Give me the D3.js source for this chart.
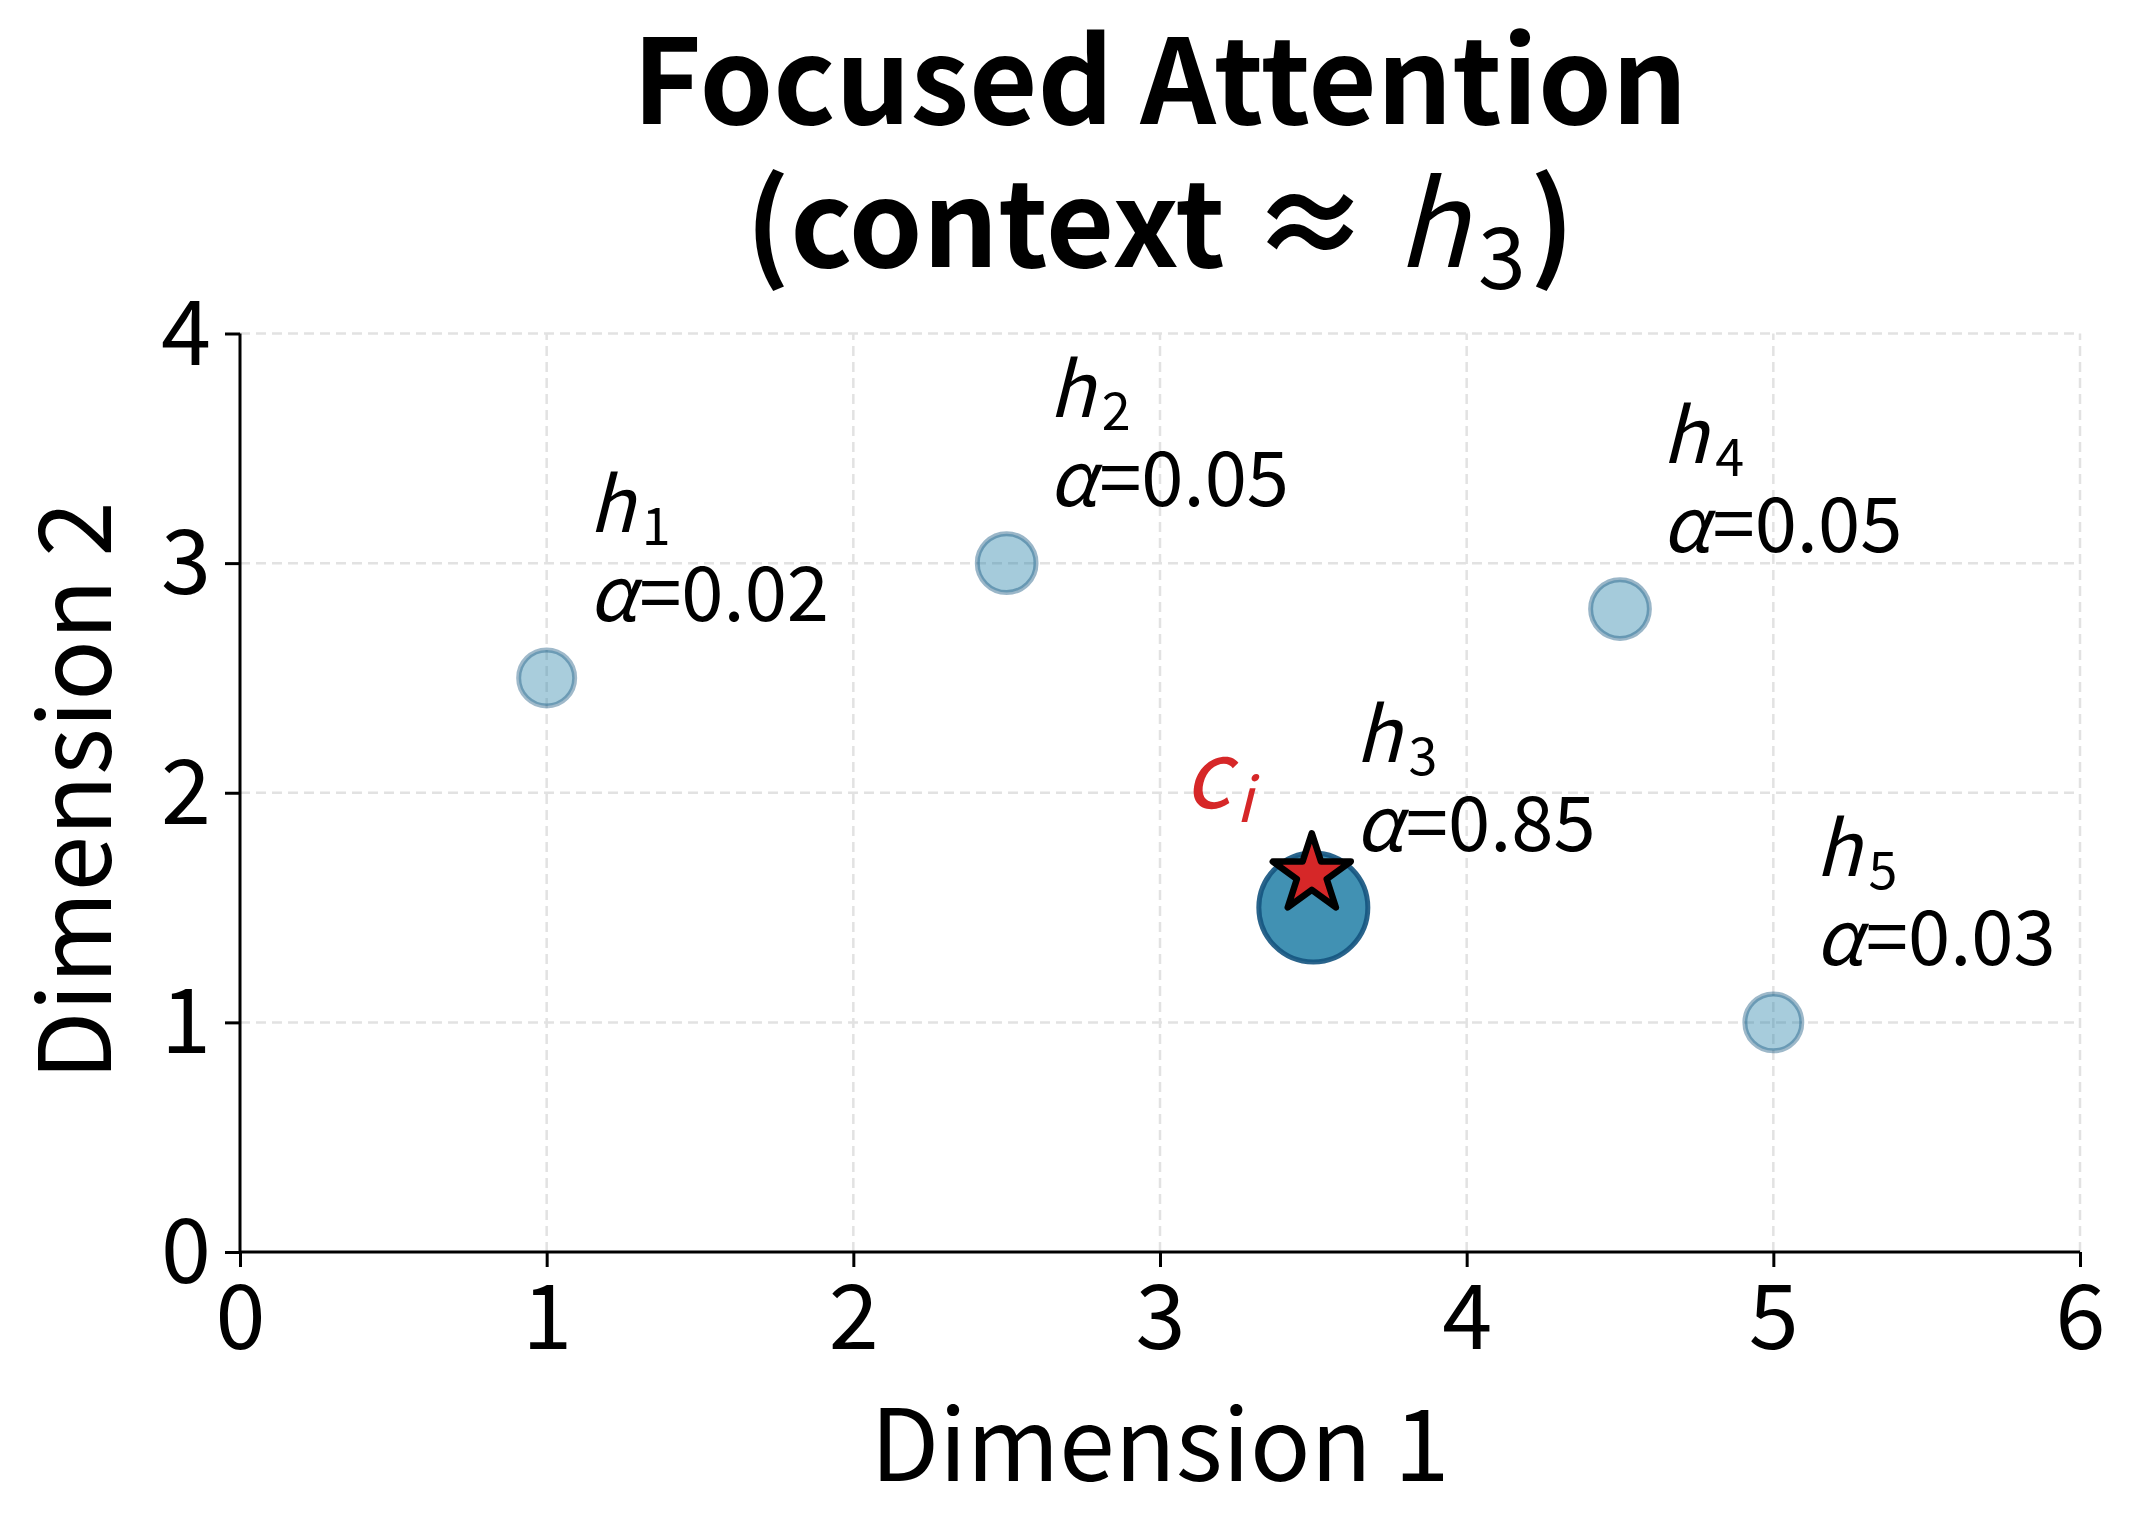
<!DOCTYPE html>
<html>
<head>
<meta charset="utf-8">
<script src="https://cdn.jsdelivr.net/npm/d3@7"></script>
<style>
  html, body { margin: 0; padding: 0; background: #ffffff; }
  svg { display: block; }
  text { font-family: "Noto Sans CJK JP", "Noto Sans", sans-serif; fill: #000; }
</style>
</head>
<body>
<svg id="chart" width="2134" height="1534"></svg>
<script>
// ---- data ----
const hiddenIndex = ["1", "2", "3", "4", "5"];
const dim1 = [1.0, 2.5, 3.5, 4.5, 5.0];
const dim2 = [2.5, 3.0, 1.5, 2.8, 1.0];
const weights = [0.02, 0.05, 0.85, 0.05, 0.03];
const weightLabels = ["0.02", "0.05", "0.85", "0.05", "0.03"];
const contextPoint = [3.495, 1.645];
const xTicks = [0, 1, 2, 3, 4, 5, 6];
const yTicks = [0, 1, 2, 3, 4];
const titleLine1 = "Focused Attention";
const xLabel = "Dimension 1";
const yLabel = "Dimension 2";

// ---- layout ----
const svg = d3.select("#chart");
svg.append("rect").attr("width", 2134).attr("height", 1534).attr("fill", "#fff");

const x = d3.scaleLinear().domain([0, 6]).range([240, 2080]);
const y = d3.scaleLinear().domain([0, 4]).range([1252, 333.5]);

const blue = "#2E86AB";
const edge = "#15557f";
const opacity = d3.scaleLinear().domain([0, 1]).range([0.4, 1.0]);
const area = d3.scaleLinear().domain([0, 1]).range([731, 3365]);

// grid
const grid = svg.append("g");
grid.selectAll("line.vx").data(xTicks.filter(d => d > 0)).join("line")
  .attr("x1", d => x(d)).attr("x2", d => x(d))
  .attr("y1", y(0)).attr("y2", y(4))
  .attr("stroke", "#e2e2e2").attr("stroke-width", 2.5).attr("stroke-dasharray", "10,6");
grid.selectAll("line.hy").data(yTicks.filter(d => d > 0)).join("line")
  .attr("x1", x(0)).attr("x2", x(6))
  .attr("y1", d => y(d)).attr("y2", d => y(d))
  .attr("stroke", "#e2e2e2").attr("stroke-width", 2.5).attr("stroke-dasharray", "10,6");

// axes
const xAxis = d3.axisBottom(x).tickValues(xTicks).tickFormat(d3.format("d")).tickSize(15).tickPadding(14);
const yAxis = d3.axisLeft(y).tickValues(yTicks).tickFormat(d3.format("d")).tickSize(15).tickPadding(14);
const gx = svg.append("g").attr("transform", `translate(0,${y(0)})`).call(xAxis);
const gy = svg.append("g").attr("transform", `translate(${x(0)},0)`).call(yAxis);
[gx, gy].forEach(g => {
  g.select(".domain").attr("stroke", "#000").attr("stroke-width", 3);
  g.selectAll(".tick line").attr("stroke", "#000").attr("stroke-width", 3);
  g.selectAll(".tick text").attr("font-size", 90)
    .attr("font-family", '"Noto Sans CJK JP", "Noto Sans", sans-serif').attr("fill", "#000");
});
gx.select(".domain").attr("d", `M${x(0)},0H${x(6)}`);
gy.select(".domain").attr("d", `M0,${y(0)}V${y(4)}`);
gy.selectAll(".tick text").attr("dy", "0.34em");
gx.selectAll(".tick text").attr("dy", "0.76em");

// points
const pts = d3.range(dim1.length).map(i => ({
  x: dim1[i], y: dim2[i], w: weights[i], idx: hiddenIndex[i], wl: weightLabels[i]
}));
svg.append("g").selectAll("circle").data(pts).join("circle")
  .attr("cx", d => x(d.x)).attr("cy", d => y(d.y))
  .attr("r", d => Math.sqrt(area(d.w)))
  .attr("fill", blue).attr("fill-opacity", d => opacity(d.w))
  .attr("stroke", edge).attr("stroke-opacity", d => opacity(d.w))
  .attr("stroke-width", 5);

// labels
const lab = svg.append("g");
pts.forEach(d => {
  const px = x(d.x) + 42, py = y(d.y);
  const t1 = lab.append("text").attr("x", px).attr("y", py - 146).attr("font-size", 76);
  t1.append("tspan").attr("font-style", "italic").text("h");
  t1.append("tspan").attr("font-size", 52).attr("dx", 7).attr("dy", 13).text(d.idx);
  const t2 = lab.append("text").attr("x", px).attr("y", py - 57).attr("font-size", 76);
  t2.append("tspan").attr("font-style", "italic").text("α");
  t2.append("tspan").attr("dx", 3).text("=" + d.wl);
});

// context star
svg.append("path")
  .attr("d", d3.symbol(d3.symbolStar, 1680 / 0.8908130915292852)())
  .attr("transform", `translate(${x(contextPoint[0])},${y(contextPoint[1])})`)
  .attr("fill", "#d62728").attr("stroke", "#000").attr("stroke-width", 6.5)
  .attr("stroke-linejoin", "round");

const ct = svg.append("text")
  .attr("x", x(contextPoint[0]) - 128).attr("y", y(contextPoint[1]) - 66)
  .attr("font-size", 92).style("fill", "#d62728");
ct.append("tspan").attr("font-style", "italic").style("fill", "#d62728").text("c");
ct.append("tspan").attr("font-style", "italic").attr("font-size", 62).attr("dx", 5).attr("dy", 14).style("fill", "#d62728").text("i");

// axis labels
svg.append("text").attr("x", (x(0) + x(6)) / 2).attr("y", 1481)
  .attr("text-anchor", "middle").attr("font-size", 100).text(xLabel);
svg.append("text")
  .attr("transform", `translate(111,${(y(0) + y(4)) / 2 - 2}) rotate(-90)`)
  .attr("text-anchor", "middle").attr("font-size", 100).text(yLabel);

// title
const cx = (x(0) + x(6)) / 2;
svg.append("text").attr("x", cx).attr("y", 124).attr("text-anchor", "middle")
  .attr("font-size", 118).attr("font-weight", 700).text(titleLine1);
const t2 = svg.append("text").attr("x", cx).attr("y", 267).attr("text-anchor", "middle")
  .attr("font-size", 118).attr("font-weight", 700);
t2.append("tspan").text("(context ≈ ");
t2.append("tspan").attr("font-weight", 400).attr("font-style", "italic").text("h");
t2.append("tspan").attr("font-weight", 400).attr("font-size", 86).attr("dx", 10).attr("dy", 22).text("3");
t2.append("tspan").attr("dx", 4).attr("dy", -22).text(")");
</script>
</body>
</html>
